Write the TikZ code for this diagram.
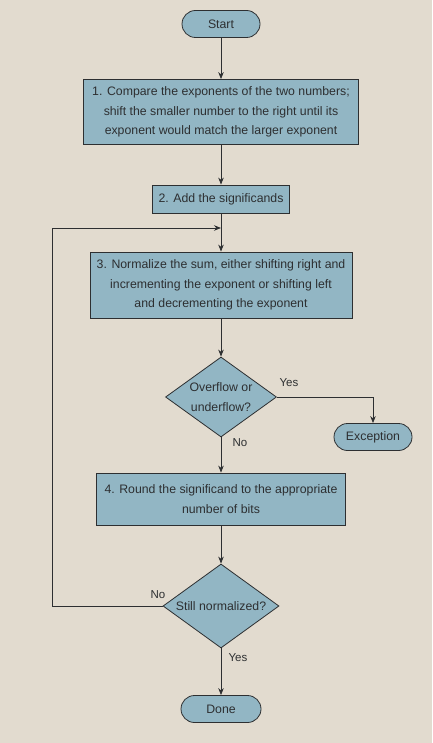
\documentclass[tikz,border=0pt]{standalone}
\usepackage{fontspec}
\setmainfont{Liberation Sans}
\usetikzlibrary{arrows.meta,%
                shapes.geometric}
\definecolor{paper}{RGB}{226,219,207}
\definecolor{boxfill}{RGB}{146,182,196}
\definecolor{ink}{RGB}{45,47,49}

\begin{document}
\begin{tikzpicture}[x=1pt,y=-1pt,>={Stealth[length=7pt,width=5.5pt]}]
  \fill[paper] (0,0) rectangle (432,743);

  \tikzstyle{BoxStyle}=[draw=ink,fill=boxfill,line width=0.8pt,align=center,
                        text=ink,font=\fontsize{12.3}{19.5}\selectfont,inner sep=1pt]
  \tikzstyle{EndStyle}=[BoxStyle,rounded corners=13.5pt,minimum width=78pt,minimum height=27pt]
  \tikzstyle{TestStyle}=[BoxStyle,diamond,aspect=1.4,inner sep=0pt]
  \tikzstyle{EdgeStyle}=[->,draw=ink,line width=0.8pt]
  \tikzstyle{LabelStyle}=[text=ink,font=\fontsize{11.5}{13}\selectfont]

  \node[EndStyle] (start) at (221,24) {Start};
  \node[BoxStyle,minimum width=275pt,minimum height=65pt] (compare) at (221,112)
    {1. Compare the exponents of the two numbers;\\
     shift the smaller number to the right until its\\
     exponent would match the larger exponent};
  \node[BoxStyle,minimum width=137pt,minimum height=28pt] (add) at (221,199)
    {2. Add the significands};
  \node[BoxStyle,minimum width=262pt,minimum height=66pt] (normalize) at (221,285)
    {3. Normalize the sum, either shifting right and\\
     incrementing the exponent or shifting left\\
     and decrementing the exponent};
  \node[TestStyle,minimum width=111pt,minimum height=80pt] (overflow) at (221,397)
    {Overflow or\\underflow?};
  \node[EndStyle] (exception) at (373,437) {Exception};
  \node[BoxStyle,minimum width=249pt,minimum height=52pt] (round) at (221,499)
    {4. Round the significand to the appropriate\\number of bits};
  \node[TestStyle,minimum width=116pt,minimum height=84pt] (still) at (221,606)
    {Still normalized?};
  \node[EndStyle,minimum width=80pt] (done) at (221,709) {Done};

  \node[LabelStyle] (yesA) at (289,383) {Yes};
  \node[LabelStyle] (noA) at (240,443) {No};
  \node[LabelStyle] (noB) at (158,595) {No};
  \node[LabelStyle] (yesB) at (238,658) {Yes};

  \coordinate (corner) at (52,228);
  \coordinate (join) at (221,228);

  \draw[EdgeStyle] (start) -- (compare);
  \draw[EdgeStyle] (compare) -- (add);
  \draw[EdgeStyle] (add) -- (normalize);
  \draw[EdgeStyle] (normalize) -- (overflow);
  \draw[EdgeStyle] (overflow.east) -| (exception.north);
  \draw[EdgeStyle] (overflow) -- (round);
  \draw[EdgeStyle] (round) -- (still);
  \draw[EdgeStyle] (still) -- (done);
  \draw[EdgeStyle] (still.west) -| (corner) -- (join);
\end{tikzpicture}
\end{document}
